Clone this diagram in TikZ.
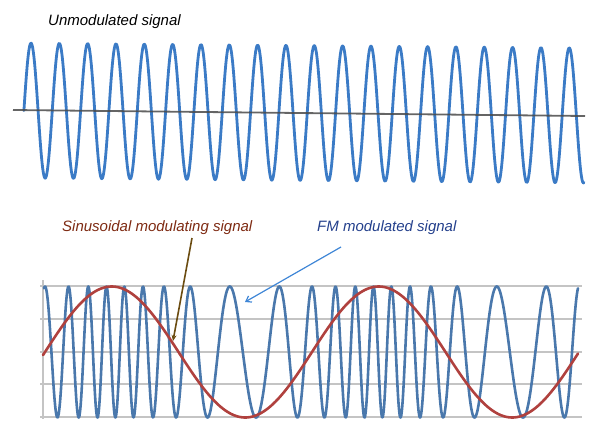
\documentclass[tikz,border=0pt]{standalone}
\usepackage{fontspec}
\setmainfont{Liberation Sans}
\usetikzlibrary{arrows.meta}
\definecolor{topblue}{HTML}{3B7BC6}
\definecolor{fmblue}{HTML}{4A78AC}
\definecolor{modred}{HTML}{B0413E}
\definecolor{gridgray}{HTML}{C4C4C4}
\definecolor{axisgray}{HTML}{4A4A4A}
\definecolor{labred}{HTML}{7E2A12}
\definecolor{labblue}{HTML}{24408C}
\definecolor{arrbrown}{HTML}{6B4C11}
\definecolor{arrblue}{HTML}{3F86D6}
\tikzset{
  lbl/.style={anchor=base west, inner sep=0pt, font=\fontsize{15}{18}\selectfont\itshape},
  gridln/.style={draw=gridgray, line width=1.4pt},
  wave/.style={line width=2.6pt, line join=round, line cap=round},
}
\begin{document}
\begin{tikzpicture}[x=1pt,y=-1pt]
\useasboundingbox (0,0) rectangle (600,431);
% ---------- top: unmodulated ----------
\node[lbl, text=black] (tl) at (48,25) {Unmodulated signal};
\draw[wave, topblue, line width=2.8pt] plot[domain=23.92:584, samples=900]
  (\x, {110.5 + 0.00888*(\x-22) - 67.5*cos(12.7074*(\x-31))});
\draw[axisgray, line width=1.8pt, opacity=0.85] (13,110) -- (585,116);
% ---------- bottom: FM ----------
\foreach \gy in {286,319,352,384,417}{
  \draw[gridln] (40,\gy) -- (582,\gy);
}
\draw[gridln] (43,280) -- (43,419);
% FM modulated signal
\draw[wave, fmblue] plot[domain=44:578, samples=1400]
  (\x, {352 - 65.5*cos(13.48315*(\x-45) - 286.48*cos(1.348315*(\x-45)) + 286.48)});
% modulating signal
\draw[wave, modred] plot[domain=43:578, samples=300]
  (\x, {352 - 65.5*sin(1.348315*(\x-45))});
% labels
\node[lbl, text=labred] (ml) at (62,231) {Sinusoidal modulating signal};
\node[lbl, text=labblue] (fl) at (317,231) {FM modulated signal};
\coordinate (mstart) at (192,238);
\coordinate (mend) at (173,341);
\coordinate (fstart) at (341,247);
\coordinate (fend) at (245,302);
\draw[arrbrown, line width=1.6pt, -{Stealth[length=6pt,width=5pt]}] (mstart) -- (mend);
\draw[arrblue, line width=1.2pt, -{Straight Barb[length=5pt,width=7pt]}] (fstart) -- (fend);
\end{tikzpicture}
\end{document}
